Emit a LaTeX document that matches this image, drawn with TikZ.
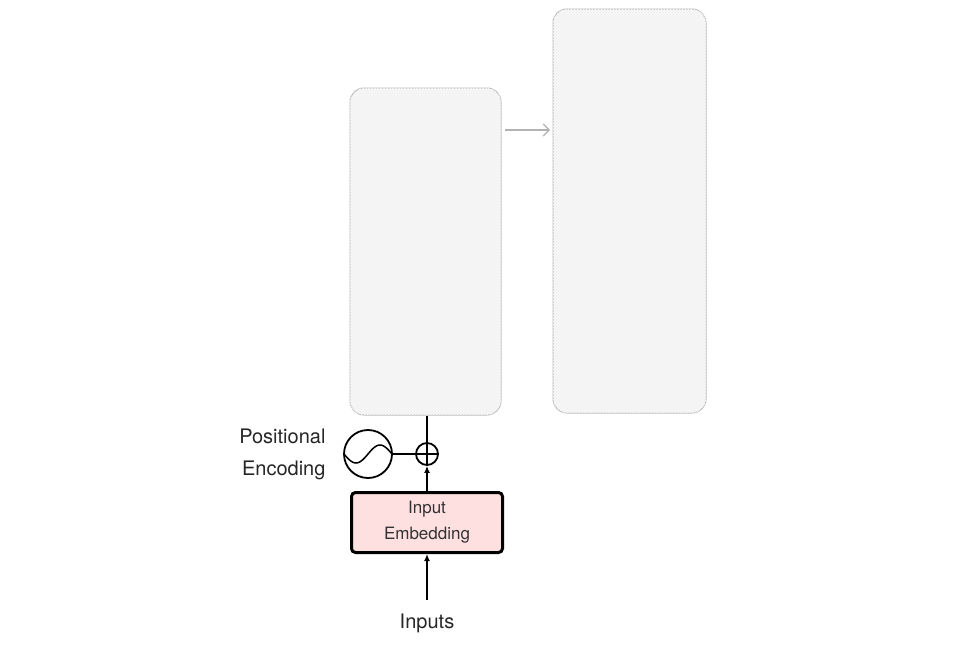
\documentclass[tikz,border=0pt]{standalone}
\usepackage{fontspec}
\setmainfont{TeX Gyre Heros}
\usetikzlibrary{patterns,arrows.meta}
\begin{document}
\begin{tikzpicture}[x=1pt,y=-1pt,
  block/.style={draw=gray!55,line width=1pt,rounded corners=14pt,fill=gray!10,
    postaction={pattern=crosshatch,pattern color=white!70!gray!20}},
  conn/.style={line width=2pt,-{Latex[length=7pt,width=6pt]}},
  lbl/.style={font=\fontsize{20}{24}\selectfont,text=black!85}]
\useasboundingbox (0,0) rectangle (958,653);
\node[block,minimum width=151pt,minimum height=327pt,inner sep=0pt] (enc) at (425.5,251.5) {};
\node[block,minimum width=153pt,minimum height=404pt,inner sep=0pt] (dec) at (629.5,211) {};
\coordinate (a1) at (505,130);
\coordinate (a2) at (550,130);
\draw[gray!60,line width=1.2pt,-{Straight Barb[length=6pt,width=12pt]}] (a1) -- (a2);
\node[draw,line width=1.8pt,circle,minimum size=22pt,inner sep=0pt] (plus) at (427,454) {};
\draw[line width=1.5pt] (plus.north) -- (plus.south) (plus.west) -- (plus.east);
\node[draw,line width=1.8pt,circle,minimum size=48pt,inner sep=0pt] (pe) at (368,454) {};
\draw[line width=1.5pt,domain=-24:24,samples=40,smooth] plot (368+\x,{454-9*sin(\x*7.5)});
\draw[line width=2pt] (pe.east) -- (plus.west);
\draw[line width=2pt] (enc.south -| plus) -- (plus.north);
\node[lbl,align=right,anchor=east,font=\fontsize{20}{32}\selectfont] (pel) at (329,454) {Positional\\Encoding};
\node[draw,line width=3pt,rounded corners=4pt,fill=red!12,minimum width=151pt,minimum height=60pt,
  align=center,font=\fontsize{17}{26}\selectfont,text=black!80] (emb) at (427,522.5) {Input\\Embedding};
\draw[conn] (emb.north) -- (plus.south);
\node[lbl] (inp) at (427,623) {Inputs};
\draw[conn] (427,600) coordinate (i0) -- (emb.south);
\end{tikzpicture}
\end{document}
